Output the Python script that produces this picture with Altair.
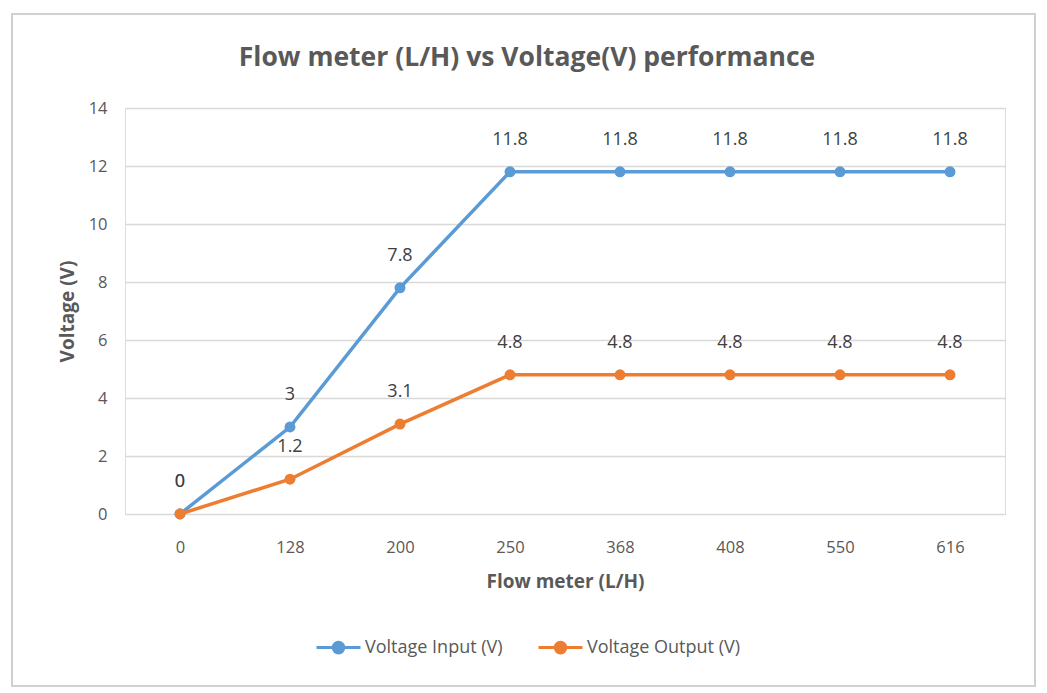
import altair as alt
import pandas as pd

flow = ["0", "128", "200", "250", "368", "408", "550", "616"]
v_in = [0, 3, 7.8, 11.8, 11.8, 11.8, 11.8, 11.8]
v_out = [0, 1.2, 3.1, 4.8, 4.8, 4.8, 4.8, 4.8]
series = ["Voltage Input (V)", "Voltage Output (V)"]

rows = []
for f, a, b in zip(flow, v_in, v_out):
    rows.append({"flow": f, "v": a, "s": series[0]})
    rows.append({"flow": f, "v": b, "s": series[1]})
df = pd.DataFrame(rows)

FONT = "Open Sans"
color = alt.Color(
    "s:N",
    scale=alt.Scale(domain=series, range=["#5B9BD5", "#ED7D31"]),
    legend=alt.Legend(
        title=None,
        orient="none",
        direction="horizontal",
        legendX=190,
        legendY=516,
        symbolType="M-1,0L1,0M0.24,0A0.24,0.24 0 1 1 -0.24,0A0.24,0.24 0 1 1 0.24,0Z",
        symbolSize=1936,
        symbolStrokeWidth=3,
        labelFont=FONT,
        labelFontSize=18,
        labelColor="#595959",
        labelOffset=3,
        columnPadding=29,
    ),
)

x = alt.X(
    "flow:N",
    sort=flow,
    scale=alt.Scale(type="point", padding=0.5),
    axis=alt.Axis(
        title="Flow meter (L/H)",
        labelAngle=0,
        labelFont=FONT,
        labelFontSize=16.5,
        labelColor="#595959",
        labelPadding=25,
        ticks=False,
        domain=True,
        domainColor="#d9d9d9",
        grid=False,
        titleFont=FONT,
        titleFontSize=19,
        titleFontWeight="bold",
        titleColor="#595959",
        titlePadding=17,
    ),
)
y = alt.Y(
    "v:Q",
    scale=alt.Scale(domain=[0, 14]),
    axis=alt.Axis(
        title="Voltage (V)",
        values=[0, 2, 4, 6, 8, 10, 12, 14],
        labelFont=FONT,
        labelFontSize=16.5,
        labelColor="#595959",
        labelPadding=18,
        ticks=False,
        domain=False,
        gridColor="#d9d9d9",
        gridWidth=1.5,
        titleFont=FONT,
        titleFontSize=19,
        titleFontWeight="bold",
        titleColor="#595959",
        titlePadding=11,
    ),
)

base = alt.Chart(df)
border = base.mark_rect(filled=False, stroke="#d0d0d0", strokeWidth=1.5).encode(
    x=alt.value(-113), x2=alt.value(910), y=alt.value(-94), y2=alt.value(578)
)
lines = base.mark_line(strokeWidth=3.5).encode(x=x, y=y, color=color)
points = base.mark_point(filled=True, size=120, opacity=1).encode(x=x, y=y, color=color)
labels = base.mark_text(dy=-32, font=FONT, fontSize=18, color="#404040").encode(
    x=x, y=y, text=alt.Text("v:Q")
)

chart = (
    alt.layer(border, lines, points, labels)
    .properties(
        width=880,
        height=406,
        padding={"left": 125, "top": 108, "right": 42, "bottom": 179},
        autosize=alt.AutoSizeParams(type="none"),
        title=alt.Title(
            "Flow meter (L/H) vs Voltage(V) performance",
            font=FONT,
            fontSize=26.5,
            fontWeight="bold",
            color="#595959",
            offset=0,
            dy=58,
            dx=-38,
            anchor="middle",
            frame="group",
        ),
    )
    .configure_view(stroke=None)
    .configure(background="white")
)

chart.save("out.html", embed_options={"renderer": "svg", "actions": False})
